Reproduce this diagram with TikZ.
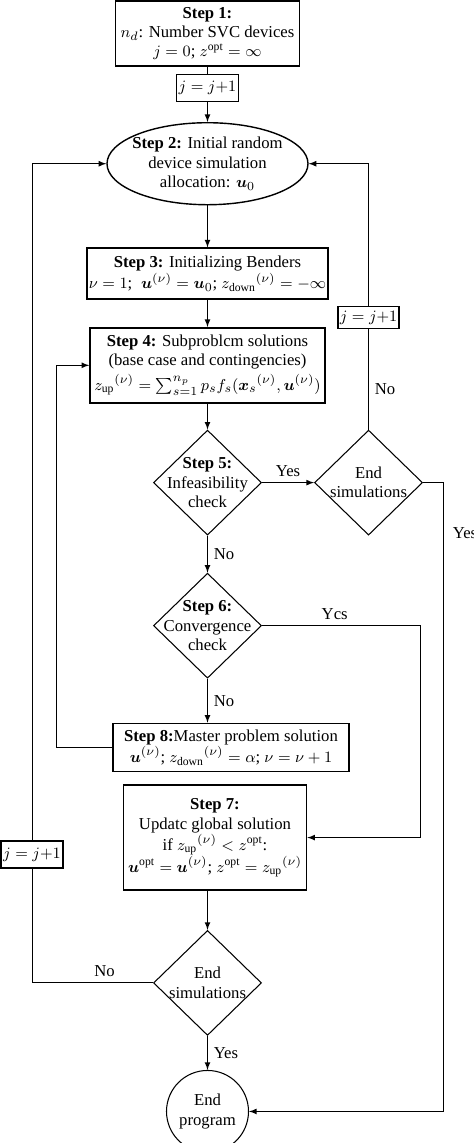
\documentclass[tikz,border=0pt]{standalone}
\usepackage{fontspec}
\setmainfont{Liberation Serif}
\usepackage{amsmath}
\usepackage{bm}
\usetikzlibrary{shapes, positioning, arrows, calc}
\colorlet{drawColor}{black}
\newcommand{\stepfont}{\fontsize{9.5}{11}\selectfont}
\tikzstyle{fText}=[align=center, font=\stepfont, inner sep=0pt]
\tikzstyle{fLabel}=[font=\stepfont]
\tikzstyle{fProcess}=[rectangle, align=center, draw=drawColor, line width=0.9pt,
fill=white, inner sep=1pt, font=\stepfont]
\tikzstyle{fCount}=[rectangle, draw=drawColor, line width=0.7pt, fill=white, inner sep=1pt,
minimum width=1.24cm, minimum height=0.54cm, font=\stepfont]
\tikzstyle{fStart}=[ellipse, draw=drawColor, line width=0.8pt, minimum width=4.02cm,
minimum height=1.64cm, inner sep=0pt]
\tikzstyle{fDecision}=[diamond, draw=drawColor, line width=0.6pt, minimum width=2.16cm,
minimum height=2.1cm, inner sep=0pt]
\tikzstyle{fEnd}=[circle, align=center, draw=drawColor, line width=0.6pt, minimum size=1.64cm,
inner sep=0pt, font=\stepfont]
\tikzstyle{arrow}=[->, >=latex, line width=0.5pt, draw=black]
\tikzstyle{link}=[line width=0.5pt, draw=black]

\begin{document}
\begin{tikzpicture}[node distance=5mm]
      \useasboundingbox (0,0) rectangle (9.48,-22.86);
      \node(step1) [fProcess, minimum width=3.68cm, minimum height=1.3cm] at (4.15,-0.67)
        {\textbf{Step 1:}\\$n_d$: Number SVC devices\\$j=0$; $z^{\mathrm{opt}}=\infty$};
      \node(jtop) [fCount, below=0.14cm of step1] {$j=j{+}1$};
      \draw [link] (step1) -- (jtop);
      \node(step2) [fStart, below=0.4cm of jtop, label={[fText]center:{\textbf{Step 2:}
        Initial random\\device simulation\\allocation: $\bm{u}_0$}}] {};
      \draw [arrow] (jtop) -- (step2);
      \node(step3) [fProcess, below=0.84cm of step2, minimum width=4.7cm, minimum height=1.02cm]
        {\textbf{Step 3:} Initializing Benders\\$\nu=1$;\; $\bm{u}^{(\nu)}=\bm{u}_0$;
        $z_{\mathrm{down}}{}^{(\nu)}=-\infty$};
      \draw [arrow] (step2) -- (step3);
      \node(step4) [fProcess, below=0.54cm of step3, minimum width=4.7cm, minimum height=1.5cm]
        {\textbf{Step 4:} Subproblcm solutions\\(base case and contingencies)\\[2pt]
        $z_{\mathrm{up}}{}^{(\nu)}=\sum_{s=1}^{n_p}p_s f_s(\bm{x}_s{}^{(\nu)},\bm{u}^{(\nu)})$};
      \draw [arrow] (step3) -- (step4);
      \node(step5) [fDecision, below=0.52cm of step4, label={[fText]center:{\textbf{Step 5:}\\
        Infeasibility\\check}}] {};
      \draw [arrow] (step4) -- (step5);
      \node(endsim1) [fDecision, right=1.04cm of step5, label={[fText]center:{End\\simulations}}] {};
      \draw [arrow] (step5) -- node[fLabel, above] {Yes} (endsim1);
      \node(jright) [fCount, minimum width=1.2cm, minimum height=0.44cm] at ($(endsim1)+(0,3.3)$)
        {$j=j{+}1$};
      \draw [link] (endsim1.north) -- node[fLabel, right, pos=0.4] {No} (jright);
      \draw [arrow] (jright) |- (step2.east);
      \node(step6) [fDecision, below=0.74cm of step5, label={[fText]center:{\textbf{Step 6:}\\
        Convergence\\check}}] {};
      \draw [arrow] (step5) -- node[fLabel, right] {No} (step6);
      \node(step8) [fProcess, below=0.88cm of step6, xshift=0.47cm, minimum width=4.72cm,
        minimum height=0.96cm]
        {\textbf{Step 8:}Master problem solution\\$\bm{u}^{(\nu)}$;
        $z_{\mathrm{down}}{}^{(\nu)}=\alpha$; $\nu=\nu+1$};
      \draw [arrow] (step6.south) -- node[fLabel, right] {No} (step6.south |- step8.north);
      \draw [arrow] (step8.west) -- ++(-1.12,0) |- (step4.west);
      \node(step7) [fProcess, below=0.24cm of step8, xshift=-0.32cm, minimum width=3.66cm,
        minimum height=2.1cm]
        {\textbf{Step 7:}\\Updatc global solution\\if $z_{\mathrm{up}}{}^{(\nu)}<z^{\mathrm{opt}}$:\\
        $\bm{u}^{\mathrm{opt}}=\bm{u}^{(\nu)}$; $z^{\mathrm{opt}}=z_{\mathrm{up}}{}^{(\nu)}$};
      \draw [arrow] (step6.east) -- node[fLabel, above, pos=0.46] {Ycs} ++(3.16,0) |- (step7.east);
      \node(endsim2) [fDecision, below=0.78cm of step7, xshift=-0.15cm,
        label={[fText]center:{End\\simulations}}] {};
      \draw [arrow] (endsim2.north |- step7.south) -- (endsim2.north);
      \node(jleft) [fCount] at ($(endsim2)+(-3.51,2.57)$) {$j=j{+}1$};
      \draw [link] (endsim2.west) -| node[fLabel, above, pos=0.2] {No} (jleft);
      \draw [arrow] (jleft) |- (step2.west);
      \node(endprog) [fEnd, below=0.68cm of endsim2] {End\\program};
      \draw [arrow] (endsim2) -- node[fLabel, right] {Yes} (endprog);
      \draw [arrow] (endsim1.east) -- ++(0.4,0) |- node[fLabel, right, pos=0.04, xshift=2pt] {Yes}
        (endprog.east);
    \end{tikzpicture}
\end{document}
